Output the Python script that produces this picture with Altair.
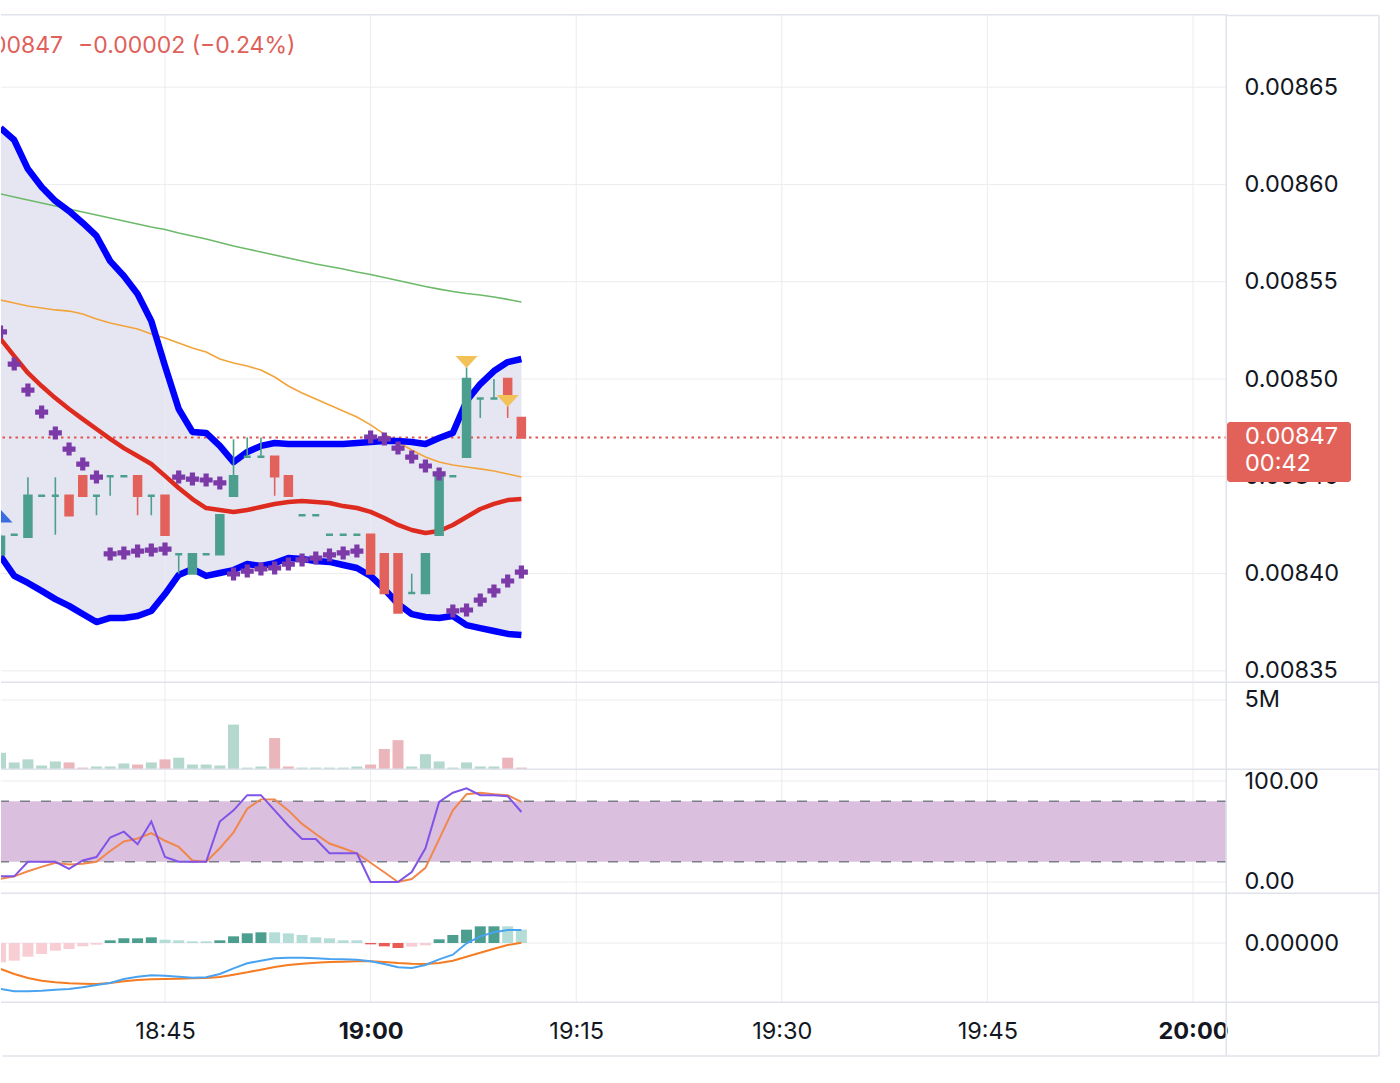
import altair as alt
import pandas as pd

# ---------------- data (prices in units of 1e-5) ----------------
times = ["18:33", "18:34", "18:35", "18:36", "18:37", "18:38", "18:39", "18:40", "18:41", "18:42",
         "18:43", "18:44", "18:45", "18:46", "18:47", "18:48", "18:49", "18:50", "18:51", "18:52",
         "18:53", "18:54", "18:55", "18:56", "18:57", "18:58", "18:59", "19:00", "19:01", "19:02",
         "19:03", "19:04", "19:05", "19:06", "19:07", "19:08", "19:09", "19:10", "19:11"]

opens = [841.0, 842.0, 841.9, 844.0, 844.0, 844.0, 845.0, 844.0, 845.0, 845.0,
         845.0, 844.0, 844.0, 841.0, 840.0, 841.0, 841.0, 844.0, 846.0, 846.0,
         846.0, 845.0, 843.0, 843.0, 842.0, 842.0, 842.0, 842.0, 841.0, 841.0,
         839.0, 839.0, 842.0, 845.0, 846.0, 849.0, 849.0, 850.0, 848.0]
highs = [842.0, 842.0, 844.95, 844.0, 844.95, 844.0, 845.0, 844.0, 845.0, 845.0,
         845.0, 844.0, 844.0, 841.0, 841.0, 841.0, 843.0, 846.9, 847.0, 847.0,
         846.0, 845.0, 843.0, 843.0, 842.0, 842.0, 842.0, 842.0, 841.0, 841.0,
         840.0, 841.0, 845.0, 845.0, 850.6, 849.0, 850.0, 850.0, 848.0]
lows = [840.8, 842.0, 841.9, 844.0, 842.0, 843.0, 844.0, 843.0, 844.0, 845.0,
        843.0, 843.0, 842.0, 840.0, 840.0, 841.0, 841.0, 844.0, 846.0, 846.0,
        844.0, 844.0, 843.0, 843.0, 842.0, 842.0, 842.0, 840.0, 839.0, 838.0,
        839.0, 839.0, 842.0, 845.0, 846.0, 848.0, 849.0, 848.0, 847.0]
closes = [841.9, 842.0, 844.0, 844.0, 844.0, 843.0, 844.0, 844.0, 845.0, 845.0,
          844.0, 844.0, 842.0, 841.0, 841.0, 841.0, 843.0, 845.0, 846.0, 846.0,
          845.0, 844.0, 843.0, 843.0, 842.0, 842.0, 842.0, 840.0, 839.0, 838.0,
          839.0, 841.0, 845.0, 845.0, 850.0, 849.0, 849.0, 849.0, 847.0]

bb_upper = [862.90, 862.28, 860.79, 859.87, 859.15, 858.63, 858.02, 857.35, 856.06, 855.29,
            854.37, 852.98, 850.67, 848.46, 847.28, 847.23, 846.56, 845.73, 846.25, 846.56,
            846.71, 846.66, 846.66, 846.66, 846.66, 846.66, 846.71, 846.76, 846.81, 846.81,
            846.76, 846.66, 846.97, 847.23, 848.87, 849.74, 850.41, 850.87, 851.03]
bb_basis = [852.06, 851.18, 850.31, 849.64, 849.02, 848.46, 847.94, 847.43, 846.92, 846.45,
            846.04, 845.63, 845.02, 844.40, 843.83, 843.37, 843.27, 843.17, 843.27, 843.42,
            843.58, 843.68, 843.73, 843.68, 843.63, 843.47, 843.37, 843.17, 842.86, 842.50,
            842.24, 842.09, 842.19, 842.50, 842.91, 843.32, 843.58, 843.78, 843.83]
bb_lower = [840.90, 839.88, 839.52, 839.11, 838.69, 838.34, 837.92, 837.51, 837.72, 837.72,
            837.82, 838.08, 838.95, 839.93, 840.24, 839.88, 840.03, 840.18, 840.49, 840.39,
            840.54, 840.80, 840.75, 840.65, 840.60, 840.44, 840.29, 839.88, 839.21, 838.44,
            837.92, 837.77, 837.72, 837.82, 837.35, 837.20, 837.05, 836.90, 836.85]
ma_slow = [859.51, 859.35, 859.20, 859.04, 858.89, 858.74, 858.58, 858.43, 858.27, 858.12,
           857.97, 857.81, 857.68, 857.50, 857.35, 857.19, 857.01, 856.83, 856.68, 856.53,
           856.37, 856.22, 856.06, 855.91, 855.78, 855.65, 855.50, 855.37, 855.22, 855.06,
           854.91, 854.75, 854.62, 854.50, 854.39, 854.32, 854.21, 854.09, 853.96]
ma_mid = [854.06, 853.91, 853.75, 853.65, 853.55, 853.49, 853.34, 853.08, 852.88, 852.72,
          852.57, 852.31, 852.11, 851.85, 851.59, 851.39, 851.03, 850.82, 850.67, 850.46,
          850.10, 849.64, 849.28, 848.97, 848.66, 848.36, 848.05, 847.64, 847.17, 846.76,
          846.35, 845.99, 845.73, 845.58, 845.48, 845.38, 845.27, 845.12, 844.96]
sar = [852.42, 850.77, 849.43, 848.30, 847.23, 846.40, 845.63, 844.96, 841.01, 841.06,
       841.16, 841.21, 841.26, 844.96, 844.86, 844.81, 844.66, 839.98, 840.13, 840.24,
       840.29, 840.49, 840.70, 840.80, 840.96, 841.06, 841.16, 847.02, 846.92, 846.45,
       845.99, 845.53, 845.12, 838.08, 838.13, 838.64, 839.11, 839.62, 840.08]

signal_times = ["18:33", "19:07", "19:10"]
signal_prices = [842.96, 850.87, 848.87]
signal_kind = ["buy", "sell", "sell"]

# volume in millions
volume_m = [1.23, 0.54, 0.76, 0.32, 0.61, 0.54, 0.17, 0.25, 0.25, 0.47,
            0.39, 0.54, 0.76, 0.88, 0.39, 0.39, 0.32, 3.24, 0.17, 0.25,
            2.28, 0.25, 0.17, 0.17, 0.17, 0.17, 0.25, 0.39, 1.50, 2.13,
            0.25, 1.13, 0.61, 0.17, 0.54, 0.25, 0.25, 0.88, 0.17]

stoch_k = [5.6, 5.6, 20.0, 20.0, 20.0, 13.0, 21.3, 24.7, 44.1, 49.8,
           37.4, 59.9, 24.7, 20.0, 20.0, 20.0, 59.9, 70.9, 86.0, 86.0,
           70.9, 55.9, 42.5, 42.5, 28.4, 28.4, 28.4, 0.0, 0.0, 0.0,
           9.9, 33.4, 79.3, 88.4, 92.7, 86.0, 86.0, 85.0, 69.3]
stoch_d = [3.2, 5.6, 10.6, 15.0, 19.0, 17.3, 18.0, 20.0, 30.7, 40.1,
           43.1, 48.5, 40.8, 34.7, 21.3, 20.0, 33.4, 49.2, 72.6, 81.7,
           81.7, 70.9, 57.5, 47.5, 38.1, 33.4, 28.4, 19.0, 9.6, 0.0,
           2.9, 14.0, 42.5, 70.9, 87.0, 88.4, 87.0, 86.0, 79.3]

# MACD values in units of 1e-8
macd_hist = [-58, -53, -41, -33, -23, -18, -10, -5, 8, 14,
             14, 17, 10, 8, 5, 5, 8, 20, 29, 32,
             32, 29, 24, 17, 14, 8, 8, -4, -10, -15,
             -11, -7, 11, 24, 40, 50, 50, 50, 40]
macd_hist_kind = (["neg_fall"] * 8 + ["pos_grow"] * 4 + ["pos_fall"] * 4 + ["pos_grow"] * 4 +
                  ["pos_fall"] * 7 + ["neg_grow"] * 3 + ["neg_fall"] * 2 + ["pos_grow"] * 5 +
                  ["pos_fall"] * 2)
macd_line = [-138, -145, -145, -143, -140, -138, -133, -126, -120, -108,
             -101, -97, -98, -101, -104, -103, -93, -76, -61, -53,
             -46, -44, -44, -46, -48, -49, -50, -55, -63, -73,
             -75, -66, -49, -35, -1, 20, 32, 39, 39]
macd_signal = [-78, -93, -105, -113, -118, -121, -122, -123, -120, -115,
               -111, -109, -108, -107, -106, -105, -102, -95, -88, -80,
               -72, -66, -62, -59, -57, -56, -55, -55, -57, -60,
               -62, -63, -60, -53, -41, -29, -17, -6, 1]

time_ticks = ["18:45", "19:00", "19:15", "19:30", "19:45", "20:00"]
price_ticks = [835, 840, 845, 850, 855, 860, 865]
vol_ticks = [5e6]
stoch_ticks = [0, 100]
stoch_bands = [20, 80]
macd_ticks = [0]
last_price = 847
last_price_text = "0.00847"
change_text = "\u22120.00002 (\u22120.24%)"
countdown_text = "00:42"

# ---------------- styling ----------------
FONT = "Inter"
FS = 23.5
TEXT = "#131722"
GRID = "#ececf0"
SEP = "#e0e3eb"
UP = "#4c9e8f"
DOWN = "#e2615b"
W = 1226
FRAME_R = 1378
H_PRICE, H_VOL, H_STOCH, H_MACD = 669, 87, 124, 109
X_DOMAIN = [1113.035, 1202.48]


def tmin(s):
    h, m = s.split(":")
    return int(h) * 60 + int(m)


P = 1e-5
df = pd.DataFrame({
    "t": [tmin(s) for s in times],
    "open": [v * P for v in opens],
    "high": [v * P for v in highs],
    "low": [v * P for v in lows],
    "close": [v * P for v in closes],
    "upper": [v * P for v in bb_upper],
    "basis": [v * P for v in bb_basis],
    "lower": [v * P for v in bb_lower],
    "ma_slow": [v * P for v in ma_slow],
    "ma_mid": [v * P for v in ma_mid],
    "sar": [v * P for v in sar],
    "vol": [v * 1e6 for v in volume_m],
    "k": stoch_k,
    "d": stoch_d,
    "hist": [v * 1e-8 for v in macd_hist],
    "macd": [v * 1e-8 for v in macd_line],
    "signal": [v * 1e-8 for v in macd_signal],
})
df["ccolor"] = [UP if c >= o else DOWN for o, c in zip(opens, closes)]
df["vcolor"] = ["#b4d8cd" if c >= o else "#ebb6bb" for o, c in zip(opens, closes)]
hist_colors = {"pos_grow": "#4c9e8f", "pos_fall": "#b5ddd7", "neg_grow": "#ea5b55", "neg_fall": "#f8cdd4"}
df["hcolor"] = [hist_colors[k] for k in macd_hist_kind]

sig_df = pd.DataFrame({"t": [tmin(s) for s in signal_times],
                       "p": [v * P for v in signal_prices],
                       "kind": signal_kind})
grid_df = pd.DataFrame({"t": [tmin(s) for s in time_ticks]})
one_df = pd.DataFrame({"t": [tmin(time_ticks[0])]})
base = alt.Chart(df)

xscale = alt.Scale(domain=X_DOMAIN, nice=False, zero=False, padding=0)


def X(field="t", axis=None):
    return alt.X(f"{field}:Q", scale=xscale, axis=axis, title=None)


def y_axis(values, fmt=None, expr=None):
    kw = dict(orient="right", values=values, grid=False, ticks=False, domain=False,
              labelPadding=17, labelFont=FONT, labelFontSize=FS, labelColor=TEXT,
              labelAlign="left", labelBaseline="middle", labelOverlap=False, labelFlush=False)
    if fmt:
        kw["format"] = fmt
    if expr:
        kw["labelExpr"] = expr
    return alt.Axis(**kw)


def vgrid(xax=None):
    return alt.Chart(grid_df).mark_rule(color=GRID, strokeWidth=1, clip=True).encode(x=X(axis=xax))


def hgrid(values, scale, ax):
    d = pd.DataFrame({"v": values})
    return alt.Chart(d).mark_rule(color=GRID, strokeWidth=1, clip=True).encode(
        y=alt.Y("v:Q", scale=scale, axis=ax, title=None))


def rule(clip=False, width=1.5, **enc):
    return alt.Chart(one_df).mark_rule(color=SEP, strokeWidth=width, clip=clip).encode(**enc)


def frame(h, top=False):
    y0 = 1.5 if top else 0
    layers = [
        rule(True, x=alt.value(0), x2=alt.value(W), y=alt.value(h - 0.75)),
        rule(False, x=alt.value(W), x2=alt.value(FRAME_R), y=alt.value(h - 0.75)),
        rule(True, x=alt.value(W - 0.75), y=alt.value(0), y2=alt.value(h)),
        rule(False, x=alt.value(FRAME_R), y=alt.value(y0), y2=alt.value(h)),
    ]
    if top:
        layers.append(rule(True, x=alt.value(0), x2=alt.value(W), y=alt.value(0.75)))
        layers.append(rule(False, x=alt.value(W), x2=alt.value(FRAME_R), y=alt.value(1.5)))
    return layers


# ---------------- price panel ----------------
pscale = alt.Scale(domain=[834.378 * P, 868.757 * P], nice=False, zero=False, padding=0)
pax = y_axis([v * P for v in price_ticks], fmt=".5f")
lp_df = pd.DataFrame({"p": [last_price * P], "label": [last_price_text], "cd": [countdown_text]})


def Yp(field):
    return alt.Y(f"{field}:Q", scale=pscale, axis=pax, title=None)


band = base.mark_area(color="#e6e6f3", clip=True).encode(x=X(), y=Yp("upper"), y2="lower:Q")
l_slow = base.mark_line(color="#6cba6a", strokeWidth=1.6, clip=True).encode(x=X(), y=Yp("ma_slow"))
l_mid = base.mark_line(color="#f2a43a", strokeWidth=1.6, clip=True).encode(x=X(), y=Yp("ma_mid"))
price_line = alt.Chart(lp_df).mark_rule(color="#e2554e", strokeWidth=2, strokeDash=[2.5, 4], clip=True).encode(
    y=Yp("p"))
l_basis = base.mark_line(color="#dd2b1f", strokeWidth=4.5, clip=True, strokeJoin="round").encode(x=X(), y=Yp("basis"))
l_up = base.mark_line(color="#0000ff", strokeWidth=6.5, clip=True, strokeJoin="round").encode(x=X(), y=Yp("upper"))
l_lo = base.mark_line(color="#0000ff", strokeWidth=6.5, clip=True, strokeJoin="round").encode(x=X(), y=Yp("lower"))
wicks = base.mark_rule(strokeWidth=1.6, clip=True).encode(
    x=X(), y=Yp("low"), y2="high:Q", color=alt.Color("ccolor:N", scale=None))
bodies = base.mark_bar(size=7, strokeWidth=2.5, clip=True).encode(
    x=X(), y=Yp("open"), y2="close:Q",
    color=alt.Color("ccolor:N", scale=None), stroke=alt.Stroke("ccolor:N", scale=None))
sar_pts = base.mark_point(shape="cross", filled=True, size=170, opacity=1, color="#7b3aa8", clip=True).encode(
    x=X(), y=Yp("sar"))
buy = alt.Chart(sig_df).transform_filter("datum.kind == 'buy'").mark_point(
    shape="M-1,0.55L1,0.55L0,-0.55Z", filled=True, size=576, opacity=1, color="#3a6ee0", clip=True).encode(
    x=X(), y=Yp("p"))
sell = alt.Chart(sig_df).transform_filter("datum.kind == 'sell'").mark_point(
    shape="M-1,-0.55L1,-0.55L0,0.55Z", filled=True, size=484, opacity=1, color="#f2c158", clip=True).encode(
    x=X(), y=Yp("p"))
head1 = alt.Chart(lp_df).mark_text(align="left", baseline="middle", font=FONT, fontSize=23,
                                   color="#e0605a", clip=True).encode(
    x=alt.value(-29), y=alt.value(32), text="label:N")
head2 = alt.Chart(lp_df).mark_text(align="left", baseline="middle", font=FONT, fontSize=23,
                                   color="#e0605a", clip=True).encode(
    x=alt.value(77), y=alt.value(32), text=alt.value(change_text))
box = alt.Chart(lp_df).mark_rect(color="#e2625a", cornerRadius=3, yOffset=-15.5, y2Offset=44.5).encode(
    x=alt.value(W), x2=alt.value(1350), y=Yp("p"), y2="p:Q")
box_t1 = alt.Chart(lp_df).mark_text(align="left", baseline="middle", font=FONT, fontSize=FS, color="white").encode(
    x=alt.value(1244), y=Yp("p"), text="label:N")
box_t2 = alt.Chart(lp_df).mark_text(align="left", baseline="middle", font=FONT, fontSize=FS, color="white",
                                    dy=27).encode(
    x=alt.value(1244), y=Yp("p"), text="cd:N")

price_panel = alt.layer(
    hgrid([v * P for v in price_ticks], pscale, pax), band, vgrid(), l_slow, l_mid, price_line, l_basis,
    l_up, l_lo, wicks, bodies, sar_pts, buy, sell,
    head1, head2, box, box_t1, box_t2, *frame(H_PRICE, top=True)
).properties(width=W, height=H_PRICE)

# ---------------- volume panel ----------------
vscale = alt.Scale(domain=[0, 6.21e6], nice=False, zero=False, padding=0)
vax = y_axis(vol_ticks, expr="'5M'")
vol_bars = base.mark_bar(size=11, clip=True).encode(
    x=X(), y=alt.Y("vol:Q", scale=vscale, axis=vax, title=None),
    color=alt.Color("vcolor:N", scale=None))
vol_panel = alt.layer(hgrid(vol_ticks, vscale, vax), vgrid(), vol_bars, *frame(H_VOL)).properties(
    width=W, height=H_VOL)

# ---------------- stochastic panel ----------------
sscale = alt.Scale(domain=[-11.9, 110.9], nice=False, zero=False, padding=0)
sax = y_axis(stoch_ticks, fmt=".2f")
band_df = pd.DataFrame({"lo": [stoch_bands[0]], "hi": [stoch_bands[1]]})
s_band = alt.Chart(band_df).mark_rect(color="#dabfde").encode(
    x=alt.value(0), x2=alt.value(W),
    y=alt.Y("lo:Q", scale=sscale, axis=sax, title=None), y2="hi:Q")
s_hi = alt.Chart(band_df).mark_rule(color="#7b7e88", strokeWidth=1.5, strokeDash=[10, 11], clip=True).encode(
    y=alt.Y("hi:Q", scale=sscale, axis=sax, title=None))
s_lo = alt.Chart(band_df).mark_rule(color="#7b7e88", strokeWidth=1.5, strokeDash=[10, 11], clip=True).encode(
    y=alt.Y("lo:Q", scale=sscale, axis=sax, title=None))
s_d = base.mark_line(color="#f2874b", strokeWidth=2, clip=True).encode(
    x=X(), y=alt.Y("d:Q", scale=sscale, axis=sax, title=None))
s_k = base.mark_line(color="#8153e6", strokeWidth=2, clip=True).encode(
    x=X(), y=alt.Y("k:Q", scale=sscale, axis=sax, title=None))
stoch_panel = alt.layer(hgrid(stoch_ticks, sscale, sax), vgrid(), s_band, s_hi, s_lo, s_d, s_k,
                        *frame(H_STOCH)).properties(width=W, height=H_STOCH)

# ---------------- MACD panel ----------------
mscale = alt.Scale(domain=[-180e-8, 147e-8], nice=False, zero=False, padding=0)
max_ = y_axis(macd_ticks, fmt=".5f")
tax = alt.Axis(
    values=[tmin(s) for s in time_ticks], grid=False, ticks=False, domain=False,
    labelExpr="floor(datum.value / 60) + ':' + (datum.value % 60 < 10 ? '0' : '') + (datum.value % 60)",
    labelFont=FONT, labelFontSize=FS, labelColor=TEXT, labelPadding=28, labelBaseline="middle",
    labelFlush=False, labelOverlap=False,
    labelFontWeight={"condition": {"test": "datum.value % 60 == 0", "value": "bold"}, "value": "normal"})
m_hist = base.mark_bar(size=11, clip=True).encode(
    x=X(axis=tax), y=alt.Y("hist:Q", scale=mscale, axis=max_, title=None),
    color=alt.Color("hcolor:N", scale=None))
m_line = base.mark_line(color="#4aa3f0", strokeWidth=2, clip=True).encode(
    x=X(axis=tax), y=alt.Y("macd:Q", scale=mscale, axis=max_, title=None))
m_sig = base.mark_line(color="#f57c22", strokeWidth=2, clip=True).encode(
    x=X(axis=tax), y=alt.Y("signal:Q", scale=mscale, axis=max_, title=None))
axis_frame = [
    rule(False, x=alt.value(1.5), x2=alt.value(FRAME_R), y=alt.value(H_MACD + 53)),
    rule(False, x=alt.value(W - 0.75), y=alt.value(H_MACD), y2=alt.value(H_MACD + 53)),
    rule(False, x=alt.value(FRAME_R), y=alt.value(H_MACD), y2=alt.value(H_MACD + 53)),
]
macd_panel = alt.layer(hgrid(macd_ticks, mscale, max_), vgrid(tax), m_hist, m_sig, m_line,
                       *frame(H_MACD), *axis_frame).properties(width=W, height=H_MACD)

chart = alt.vconcat(price_panel, vol_panel, stoch_panel, macd_panel, spacing=0, bounds="flush").properties(
    padding={"left": 0, "top": 13, "right": 0, "bottom": 0}
).configure_view(stroke="transparent")

chart.save("out.html", embed_options={"renderer": "svg", "actions": False})
